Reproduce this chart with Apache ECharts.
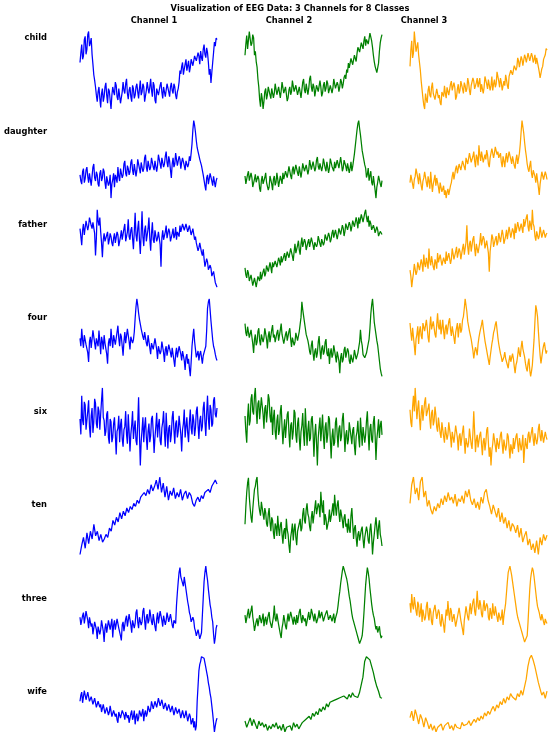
<!DOCTYPE html>
<html>
<head>
<meta charset="utf-8">
<script src="https://cdn.jsdelivr.net/npm/echarts@6/dist/echarts.min.js"></script>
<style>
html,body{margin:0;padding:0;background:#fff;}
#chart{width:550px;height:732px;}
</style>
</head>
<body>
<div id="chart"></div>
<script>
const titleText = 'Visualization of EEG Data: 3 Channels for 8 Classes';
const classes = ['child','daughter','father','four','six','ten','three','wife'];
const channels = ['Channel 1','Channel 2','Channel 3'];
const channelColors = ['#0000ff','#008000','#ffa500'];

// Relative signal amplitude (0 = lowest, 100 = highest within each trace)
const child_ch1 = [
 60,72, 82,64, 68,88, 92,70, 76,94, 98,80, 84,90, 70,58, 45,38, 30,20,
 12,24, 30,16, 5,22, 28,12, 18,30, 35,20, 10,28, 25,14, 3,20, 30,24,
 20,36, 32,18, 14,28, 26,10, 8,24, 36,26, 22,34, 40,22, 15,26, 30,18,
 12,32, 28,16, 20,30, 34,24, 16,28, 38,20, 24,34, 30,12, 14,26, 36,28,
 22,30, 40,26, 18,36, 32,14, 10,28, 30,20, 22,32, 36,24, 16,30, 28,18,
 20,34, 32,24, 18,30, 35,26, 22,34, 30,20, 15,24, 28,36, 50,46, 55,60,
 45,52, 58,64, 50,56, 62,48, 54,64, 66,56, 58,68, 70,62, 60,72, 68,58,
 74,66, 62,76, 82,70, 66,78, 72,60, 45,52, 35,48, 60,72, 85,80, 90,88];
const child_ch2 = [
 70,84, 95,78, 80,100, 98,82, 85,96, 92,70, 75,62, 55,40, 30,14, 5,22,
 15,2, 12,24, 28,14, 20,30, 32,20, 15,28, 26,16, 22,34, 35,20, 18,30,
 30,16, 25,36, 34,22, 20,30, 28,12, 16,26, 30,20, 24,38, 36,24, 22,32,
 32,20, 18,30, 28,16, 26,36, 40,26, 22,34, 34,20, 28,40, 44,30, 24,34,
 30,18, 20,32, 34,24, 26,38, 30,18, 22,32, 36,24, 28,38, 34,22, 24,32,
 30,22, 28,40, 38,28, 26,36, 32,24, 30,40, 36,28, 34,42, 45,40, 52,48,
 60,54, 56,66, 64,58, 60,70, 68,62, 72,80, 80,74, 76,86, 84,78, 88,94,
 82,90, 92,84, 86,98, 96,88, 80,70, 62,56, 55,48, 50,60, 75,86, 92,96];
const child_ch3 = [
 55,76, 88,66, 72,100, 98,74, 80,86, 70,60, 50,36, 25,14, 5,0, 20,12,
 8,24, 30,18, 15,28, 34,20, 22,12, 10,26, 28,14, 18,8, 5,22, 24,16,
 30,20, 14,28, 26,18, 20,32, 36,24, 22,34, 28,12, 16,26, 32,20, 24,36,
 38,26, 20,34, 30,22, 26,40, 34,24, 18,30, 28,40, 36,26, 24,34, 40,28,
 30,40, 22,32, 34,20, 28,42, 44,32, 26,38, 36,24, 30,42, 24,32, 38,28,
 32,48, 46,36, 28,40, 34,24, 22,36, 30,44, 38,30, 26,42, 40,50, 52,44,
 46,56, 58,50, 54,66, 62,54, 56,68, 64,56, 58,70, 66,60, 60,72, 70,62,
 62,72, 68,60, 64,70, 58,66, 66,54, 48,40, 42,52, 55,64, 62,70, 78,76];

const daughter_ch1 = [
 30,22, 18,34, 38,20, 25,36, 40,28, 20,32, 32,16, 28,40, 44,26, 22,34,
 30,18, 15,32, 36,22, 26,38, 34,20, 12,28, 28,16, 20,30, 0,18, 24,32,
 14,30, 26,20, 40,28, 22,38, 36,26, 30,44, 48,32, 28,42, 38,30, 34,46,
 50,36, 30,44, 42,28, 36,50, 52,38, 32,46, 44,34, 38,52, 56,40, 34,48,
 46,36, 40,52, 54,40, 36,48, 48,34, 42,56, 58,44, 38,52, 50,40, 44,54,
 60,46, 40,54, 48,36, 26,44, 52,40, 44,58, 56,42, 42,54, 50,38, 46,52,
 54,42, 36,48, 50,40, 44,54, 48,58, 70,88, 100,94, 85,74, 65,60, 55,50,
 48,42, 40,30, 28,16, 10,26, 30,18, 20,32, 34,22, 16,28, 30,14, 22,26];
const daughter_ch2 = [
 30,20, 18,32, 36,24, 22,34, 28,16, 14,26, 32,22, 20,30, 26,14, 10,24,
 30,20, 18,28, 34,22, 24,12, 16,30, 28,20, 12,26, 30,18, 22,34, 26,16,
 18,30, 28,20, 34,26, 24,36, 38,28, 30,42, 40,30, 26,38, 42,32, 34,44,
 46,34, 30,42, 40,28, 36,46, 48,36, 34,44, 44,32, 38,50, 50,38, 36,48,
 46,36, 40,50, 54,42, 38,46, 48,36, 42,52, 50,40, 36,48, 46,34, 40,52,
 52,42, 44,36, 48,40, 38,50, 50,40, 42,54, 46,36, 40,50, 52,42, 36,46,
 44,34, 40,48, 36,42, 50,58, 68,78, 88,96, 100,90, 82,72, 62,56, 50,44,
 40,28, 32,40, 24,30, 36,22, 18,30, 28,12, 2,16, 22,30, 30,20, 16,24];
const daughter_ch3 = [
 20,30, 32,18, 12,24, 28,38, 40,26, 18,32, 30,16, 10,22, 26,34, 36,20,
 14,28, 22,12, 34,20, 8,18, 24,30, 16,26, 28,14, 6,20, 18,8, 10,16,
 4,10, 0,8, 12,4, 6,16, 20,28, 34,24, 26,38, 42,32, 30,44, 46,36,
 38,48, 50,40, 36,52, 54,44, 42,58, 56,46, 44,54, 60,48, 40,56, 52,42,
 68,56, 48,60, 58,46, 44,56, 50,62, 56,44, 40,52, 54,64, 62,52, 58,66,
 66,56, 60,52, 50,58, 46,40, 54,48, 40,52, 58,46, 48,60, 62,50, 44,54,
 52,42, 38,50, 56,44, 46,58, 70,86, 100,92, 84,72, 62,54, 44,38, 34,42,
 48,32, 26,36, 38,28, 20,32, 30,14, 4,18, 26,34, 36,24, 22,34, 30,24];

const father_ch1 = [
 76,66, 55,74, 82,68, 70,86, 88,74, 80,90, 92,80, 76,84, 86,70, 42,64,
 100,86, 80,90, 72,58, 40,62, 70,60, 58,68, 72,56, 62,70, 66,58, 54,64,
 70,58, 60,72, 68,54, 56,66, 74,62, 64,76, 82,60, 58,72, 88,66, 62,74,
 78,64, 50,72, 96,68, 60,76, 86,62, 44,70, 98,66, 54,74, 80,60, 62,76,
 90,64, 48,70, 84,62, 58,74, 76,60, 64,72, 70,56, 28,64, 74,62, 60,72,
 80,64, 66,76, 72,60, 58,70, 76,64, 68,78, 62,72, 74,66, 80,72, 70,82,
 84,74, 76,82, 80,72, 72,80, 78,68, 70,76, 74,62, 66,58, 60,48, 52,58,
 56,46, 42,50, 38,28, 30,38, 34,24, 22,30, 26,16, 14,22, 20,8, 10,2];
const father_ch2 = [
 25,16, 12,22, 18,8, 6,16, 14,2, 4,12, 10,0, 2,14, 16,8, 20,10,
 12,20, 24,14, 18,28, 30,20, 22,32, 26,18, 32,26, 24,34, 36,26, 28,38,
 34,28, 40,32, 30,40, 44,34, 36,46, 48,38, 40,50, 52,40, 34,46, 56,44,
 44,54, 60,48, 42,56, 64,52, 50,62, 58,48, 46,58, 62,52, 54,64, 66,54,
 48,58, 60,52, 56,66, 68,56, 52,62, 64,54, 58,68, 70,60, 60,70, 66,58,
 62,70, 74,64, 64,74, 72,62, 68,76, 78,68, 70,80, 76,66, 72,82, 82,74,
 74,84, 80,72, 78,86, 88,78, 80,90, 84,76, 90,82, 82,94, 92,84, 86,96,
 100,90, 84,92, 78,86, 82,74, 72,80, 76,70, 70,78, 74,66, 66,72, 70,68];
const father_ch3 = [
 22,14, 0,10, 18,30, 28,16, 20,32, 34,22, 24,36, 30,20, 42,30, 26,38,
 36,24, 50,34, 28,40, 38,26, 22,36, 32,24, 44,32, 30,42, 40,28, 26,38,
 38,30, 46,34, 32,44, 42,30, 36,50, 48,36, 34,46, 52,38, 40,50, 46,36,
 38,50, 56,42, 44,58, 80,52, 42,56, 60,46, 48,62, 66,50, 40,56, 54,44,
 46,58, 70,54, 52,66, 62,50, 48,60, 58,44, 20,46, 56,68, 64,52, 50,62,
 66,54, 58,70, 72,58, 60,74, 68,56, 56,66, 74,62, 64,78, 78,64, 66,76,
 72,62, 82,70, 70,84, 86,72, 74,82, 80,70, 88,78, 76,90, 94,78, 72,86,
 84,74, 100,82, 78,66, 60,72, 74,62, 66,78, 80,64, 62,74, 72,64, 68,70];

const four_ch1 = [
 50,40, 62,48, 38,54, 56,42, 44,32, 20,46, 52,38, 40,60, 58,44, 36,50,
 48,40, 60,46, 30,52, 46,36, 54,44, 42,30, 18,44, 50,40, 62,48, 38,54,
 56,42, 44,58, 66,50, 40,56, 52,40, 28,46, 58,44, 46,62, 60,46, 36,52,
 54,44, 48,58, 75,90, 100,92, 82,74, 68,62, 60,52, 48,58, 56,44, 40,54,
 52,38, 30,44, 46,36, 38,50, 50,36, 24,40, 42,30, 34,46, 48,32, 20,36,
 40,28, 30,42, 44,32, 26,38, 36,22, 14,30, 38,26, 28,40, 42,30, 22,34,
 34,22, 10,26, 30,18, 24,12, 2,20, 40,52, 62,46, 36,26, 28,34, 22,30,
 34,26, 18,28, 30,36, 40,60, 88,96, 100,86, 72,60, 48,40, 36,30, 25,22];
const four_ch2 = [
 68,56, 52,64, 62,50, 48,60, 58,42, 30,48, 54,40, 44,58, 62,46, 40,54,
 56,44, 50,62, 64,48, 36,52, 58,44, 46,60, 66,50, 54,44, 42,56, 60,46,
 48,60, 68,54, 52,42, 40,54, 58,46, 46,58, 62,48, 38,50, 52,40, 44,56,
 56,46, 48,58, 60,76, 96,86, 78,70, 62,54, 54,46, 40,32, 28,40, 46,30,
 20,32, 36,24, 30,44, 52,34, 22,36, 40,28, 32,44, 48,30, 26,36, 16,30,
 36,24, 28,40, 42,26, 18,32, 34,20, 4,24, 30,18, 22,34, 38,24, 26,36,
 32,20, 16,28, 30,18, 24,34, 36,22, 20,30, 28,44, 60,46, 40,28, 30,24,
 22,30, 36,42, 48,62, 80,92, 100,86, 70,62, 54,46, 40,30, 20,10, 4,0];
const four_ch3 = [
 70,58, 48,64, 62,42, 30,50, 56,66, 44,60, 66,54, 50,70, 72,60, 58,74,
 64,52, 46,66, 78,62, 60,72, 70,56, 52,68, 82,66, 62,74, 56,64, 74,60,
 50,64, 68,56, 58,72, 76,62, 54,66, 64,52, 44,58, 60,70, 52,64, 70,58,
 62,74, 78,88, 100,92, 84,72, 66,60, 58,50, 48,36, 26,34, 40,36, 30,44,
 52,58, 60,68, 74,64, 56,48, 42,36, 30,24, 18,28, 36,44, 50,58, 62,68,
 72,62, 52,44, 38,32, 28,22, 20,28, 34,26, 24,18, 14,24, 30,22, 20,32,
 26,16, 8,18, 22,30, 40,32, 28,40, 48,38, 36,28, 20,14, 10,20, 26,12,
 4,10, 18,34, 50,72, 92,86, 78,60, 44,30, 20,28, 36,42, 46,38, 32,36];

const six_ch1 = [
 60,40, 90,58, 52,82, 78,46, 44,70, 84,50, 36,64, 74,42, 56,86, 80,54,
 48,76, 70,46, 66,84, 100,62, 58,38, 44,66, 70,36, 28,60, 56,30, 36,54,
 62,40, 14,44, 48,64, 30,52, 60,34, 24,46, 50,70, 40,28, 66,44, 18,40,
 52,70, 34,48, 58,32, 26,54, 88,40, 0,30, 46,62, 30,50, 62,36, 20,44,
 54,30, 38,60, 64,42, 16,36, 50,68, 36,52, 60,32, 26,48, 56,70, 42,24,
 68,44, 22,48, 52,30, 40,62, 70,46, 28,54, 58,36, 44,64, 66,40, 18,46,
 54,72, 36,50, 62,42, 30,56, 72,48, 40,66, 58,38, 48,70, 76,52, 34,58,
 64,44, 50,74, 82,56, 38,68, 90,60, 46,78, 72,50, 54,84, 88,66, 62,74];
const six_ch2 = [
 64,44, 30,62, 80,52, 58,86, 92,70, 66,90, 100,72, 54,80, 84,60, 62,88,
 90,66, 48,74, 78,56, 70,92, 86,64, 56,76, 40,62, 72,44, 34,58, 66,40,
 46,70, 78,50, 28,46, 60,36, 38,66, 70,42, 24,52, 56,34, 44,72, 68,40,
 30,54, 62,36, 20,44, 52,68, 40,26, 74,50, 26,46, 58,32, 36,60, 64,42,
 12,40, 54,30, 1,36, 50,62, 32,48, 66,38, 22,50, 56,30, 40,64, 60,34,
 10,38, 48,26, 30,56, 62,40, 24,48, 52,32, 38,60, 68,44, 18,40, 46,28,
 34,56, 58,38, 28,46, 50,26, 14,38, 44,58, 36,24, 62,44, 26,50, 48,30,
 40,58, 70,42, 20,48, 54,34, 30,56, 64,40, 8,34, 46,60, 36,52, 58,40];
const six_ch3 = [
 72,56, 50,76, 90,70, 100,80, 60,74, 84,62, 46,68, 78,58, 56,82, 88,64,
 62,74, 80,60, 48,68, 72,52, 58,76, 66,50, 44,62, 60,42, 36,56, 54,38,
 30,50, 48,34, 40,56, 58,38, 24,44, 46,30, 32,52, 50,36, 20,38, 42,26,
 28,44, 52,32, 16,36, 38,24, 30,48, 46,28, 22,42, 70,44, 18,34, 40,24,
 26,40, 44,28, 14,32, 36,20, 30,46, 50,30, 12,24, 1,20, 28,42, 40,26,
 18,36, 34,22, 24,40, 44,28, 16,34, 32,20, 26,42, 38,24, 10,28, 30,16,
 36,22, 24,38, 42,28, 18,36, 34,20, 28,40, 4,22, 36,26, 22,40, 44,30,
 30,44, 50,34, 26,42, 40,28, 34,48, 54,38, 32,46, 46,30, 28,44, 38,34];

const ten_ch1 = [0,12,22,8,28,14,30,20,39,24,30,18,26, 16,20,26,22,34,30,44,38,48,42,54,46,56,
 50,60,54,62,58,66,62,70,66,74,72, 80,76,84,78,90,82,88,96,84,100,80,
 92,74,88,70,82,76,86,72,80,74,84,70,78, 82,72,80,76,66,62,70,74,68, 76,72,80,78,84,80,88,92,96,91];
const ten_ch2 = [
 39,62, 80,92, 99,74, 60,48, 41,58, 72,84, 88,96, 100,78, 64,56, 50,68,
 70,52, 45,60, 54,40, 36,52, 60,42, 30,48, 44,28, 20,40, 36,24, 50,34,
 24,38, 42,26, 14,30, 34,20, 46,32, 26,12, 2,22, 30,40, 18,32, 40,22,
 12,30, 28,40, 46,30, 34,52, 60,44, 40,58, 66,52, 48,36, 30,48, 56,40,
 42,60, 70,52, 50,66, 62,48, 81,64, 54,70, 38,52, 46,32, 30,44, 58,42,
 40,56, 66,50, 77,62, 50,64, 70,54, 42,58, 60,44, 34,48, 52,36, 40,28,
 46,32, 28,50, 60,40, 20,34, 38,22, 10,26, 30,18, 16,32, 36,20, 8,22,
 24,36, 30,18, 14,32, 40,24, 0,16, 26,38, 48,34, 20,36, 44,26, 20,11];
const ten_ch3 = [66,90,100,78,86,70,94,100,74,82,62,70, 58,52,62,56,66,60,
 72,64,76,68,80,70,74,66,78,62,72,68,76,66,82,74,84,70,64,72,
 60,68,58,74,66,80,84,70, 62,52,64,56,48,60,42,54,40,48,34,44,30,40,
 36,28,38,22,34,16,24,30,12,20,6,14,2,18,0,22,12,26,18,25];

const three_ch1 = [
 34,24, 22,36, 40,26, 28,42, 44,30, 20,34, 36,22, 26,12, 14,28, 30,18,
 6,22, 24,12, 18,30, 32,16, 2,20, 26,14, 12,30, 28,18, 20,32, 8,24,
 30,18, 16,32, 34,20, 22,10, 4,24, 28,16, 18,32, 36,22, 24,38, 40,24,
 14,30, 32,20, 26,40, 44,28, 20,34, 36,24, 28,42, 46,30, 18,34, 38,26,
 30,44, 42,28, 24,38, 36,22, 16,32, 40,26, 28,42, 44,30, 22,36, 38,24,
 30,40, 42,28, 26,38, 36,24, 20,30, 32,26, 50,66, 80,92, 98,86, 88,78,
 74,86, 84,70, 62,54, 48,40, 36,28, 26,34, 30,20, 16,10, 8,18, 20,6,
 4,14, 36,58, 80,92, 100,90, 82,70, 60,50, 44,34, 28,12, 0,8, 20,24];
const three_ch2 = [
 38,28, 30,40, 46,34, 36,44, 50,36, 28,18, 20,30, 34,24, 26,38, 40,28,
 30,40, 24,32, 36,26, 28,38, 42,30, 32,22, 22,36, 50,34, 30,40, 38,26,
 24,14, 9,22, 28,38, 36,24, 20,32, 40,30, 30,42, 44,32, 26,36, 34,26,
 38,28, 30,42, 46,34, 28,38, 40,30, 34,24, 24,36, 42,32, 36,46, 48,36,
 30,40, 38,28, 26,36, 44,34, 34,42, 40,30, 28,38, 36,44, 42,32, 30,38,
 38,30, 32,40, 28,34, 36,42, 50,60, 68,78, 86,94, 100,96, 92,88, 84,78,
 70,62, 56,48, 40,34, 30,26, 24,18, 14,10, 8,2, 4,8, 12,24, 40,58,
 76,88, 98,92, 84,72, 62,52, 44,38, 34,26, 20,24, 16,20, 24,14, 9,12];
const three_ch3 = [
 52,40, 64,50, 44,60, 58,42, 36,54, 50,34, 40,52, 28,44, 46,30, 34,48,
 54,38, 30,46, 42,28, 24,40, 38,50, 48,32, 32,44, 40,26, 22,38, 36,24,
 14,30, 44,36, 55,40, 30,46, 42,28, 26,38, 36,22, 20,34, 34,46, 44,30,
 28,18, 11,30, 38,48, 46,34, 30,44, 52,38, 40,54, 58,42, 36,50, 68,48,
 44,56, 50,38, 34,48, 56,42, 40,52, 48,34, 30,46, 44,32, 52,40, 36,48,
 46,34, 28,40, 40,30, 34,44, 24,36, 38,52, 66,80, 92,96, 100,94, 88,80,
 72,64, 56,48, 40,34, 30,26, 22,18, 14,10, 6,2, 0,4, 10,28, 50,70,
 84,92, 98,94, 86,76, 66,56, 48,44, 40,34, 30,38, 36,28, 24,32, 28,26];

const wife_ch1 = [
 40,48, 52,38, 36,54, 56,42, 44,52, 50,40, 38,46, 48,36, 34,44, 46,32,
 30,40, 42,32, 36,26, 28,36, 38,24, 22,32, 34,22, 26,34, 32,20, 18,28,
 30,20, 24,16, 12,26, 28,18, 20,28, 30,22, 16,26, 26,18, 22,12, 14,24,
 28,16, 20,28, 10,20, 24,14, 18,28, 30,20, 22,30, 14,24, 28,20, 24,34,
 32,26, 30,40, 38,30, 28,40, 42,32, 34,44, 44,34, 36,42, 40,30, 32,38,
 38,28, 30,36, 36,26, 28,34, 34,22, 24,32, 32,24, 26,30, 30,18, 20,28,
 28,18, 22,28, 26,14, 16,24, 20,10, 12,18, 6,14, 2,8, 40,60, 80,88,
 92,98, 100,98, 96,90, 84,78, 72,64, 58,50, 44,34, 24,12, 0,8, 14,18];
const wife_ch2 = [16,8,14,20,10,18,12,6,16,10,14,8,12,4,10,6,12,8,14,6,10,4,12,2,8,6,10,4,14,8,12,6,10,14,12,18,
 16,22,18,26,22,28,24,32,28,34,30,38,34,40,38,42,40,44,42,46,
 44,48,46,44,50,46,52,48,50,46,52, 54,72,92,98,100,94, 86,78,68,60,54,46,45];
const wife_ch3 = [22,30,18,32,24,14,26,20,10,22,16,8,14,6,12,4,
 10,8,14,6,12,10,16,8,12,6,14,10,12,8,16,12,10,14,18,12,16,
 20,16,22,18,24,20,28,24,30,26,32,36,30,38,34,42,38,46,40,48,44,52,
 48,50,44,52,48,56,50,60, 70,86,96,100,94, 86,76,66,58,50,54,46,55];

const traces = [
  [child_ch1, child_ch2, child_ch3],
  [daughter_ch1, daughter_ch2, daughter_ch3],
  [father_ch1, father_ch2, father_ch3],
  [four_ch1, four_ch2, four_ch3],
  [six_ch1, six_ch2, six_ch3],
  [ten_ch1, ten_ch2, ten_ch3],
  [three_ch1, three_ch2, three_ch3],
  [wife_ch1, wife_ch2, wife_ch3]
];

// layout
const colLeft = [80, 245, 410];
const panelW = 137;
const rowTop0 = 31.5, rowStep = 89.1, panelH = 77.5;
const headerX = [154, 289, 424];
const labelRight = 47;
const labelY0 = 38, labelStep = 93.4;
const fontFam = 'DejaVu Sans';
const fs = 8.3;

function txt(text, x, y, align) {
  return {
    text, left: x, top: y - fs * 0.6, textAlign: align, padding: 0,
    textStyle: {fontFamily: fontFam, fontWeight: 'bold', fontSize: fs, color: '#000', lineHeight: fs * 1.2}
  };
}

const grid = [], xAxis = [], yAxis = [], series = [];
const titles = [txt(titleText, 290, 8.5, 'center')];
channels.forEach((ch, c) => titles.push(txt(ch, headerX[c], 20.5, 'center')));
classes.forEach((name, r) => titles.push(txt(name, labelRight, labelY0 + r * labelStep, 'right')));

let gi = 0;
traces.forEach((row, r) => {
  row.forEach((arr, c) => {
    grid.push({left: colLeft[c], top: rowTop0 + r * rowStep, width: panelW, height: panelH});
    xAxis.push({gridIndex: gi, type: 'value', min: 0, max: arr.length - 1, show: false});
    yAxis.push({gridIndex: gi, type: 'value', min: Math.min(...arr), max: Math.max(...arr), show: false});
    series.push({
      type: 'line', xAxisIndex: gi, yAxisIndex: gi,
      data: arr.map((v, i) => [i, v]),
      showSymbol: false, symbol: 'none',
      lineStyle: {color: channelColors[c], width: 1.25},
      silent: true
    });
    gi++;
  });
});

const chart = echarts.init(document.getElementById('chart'), null, {renderer: 'canvas'});
chart.setOption({
  animation: false,
  backgroundColor: '#fff',
  title: titles,
  grid, xAxis, yAxis, series
});
</script>
</body>
</html>
